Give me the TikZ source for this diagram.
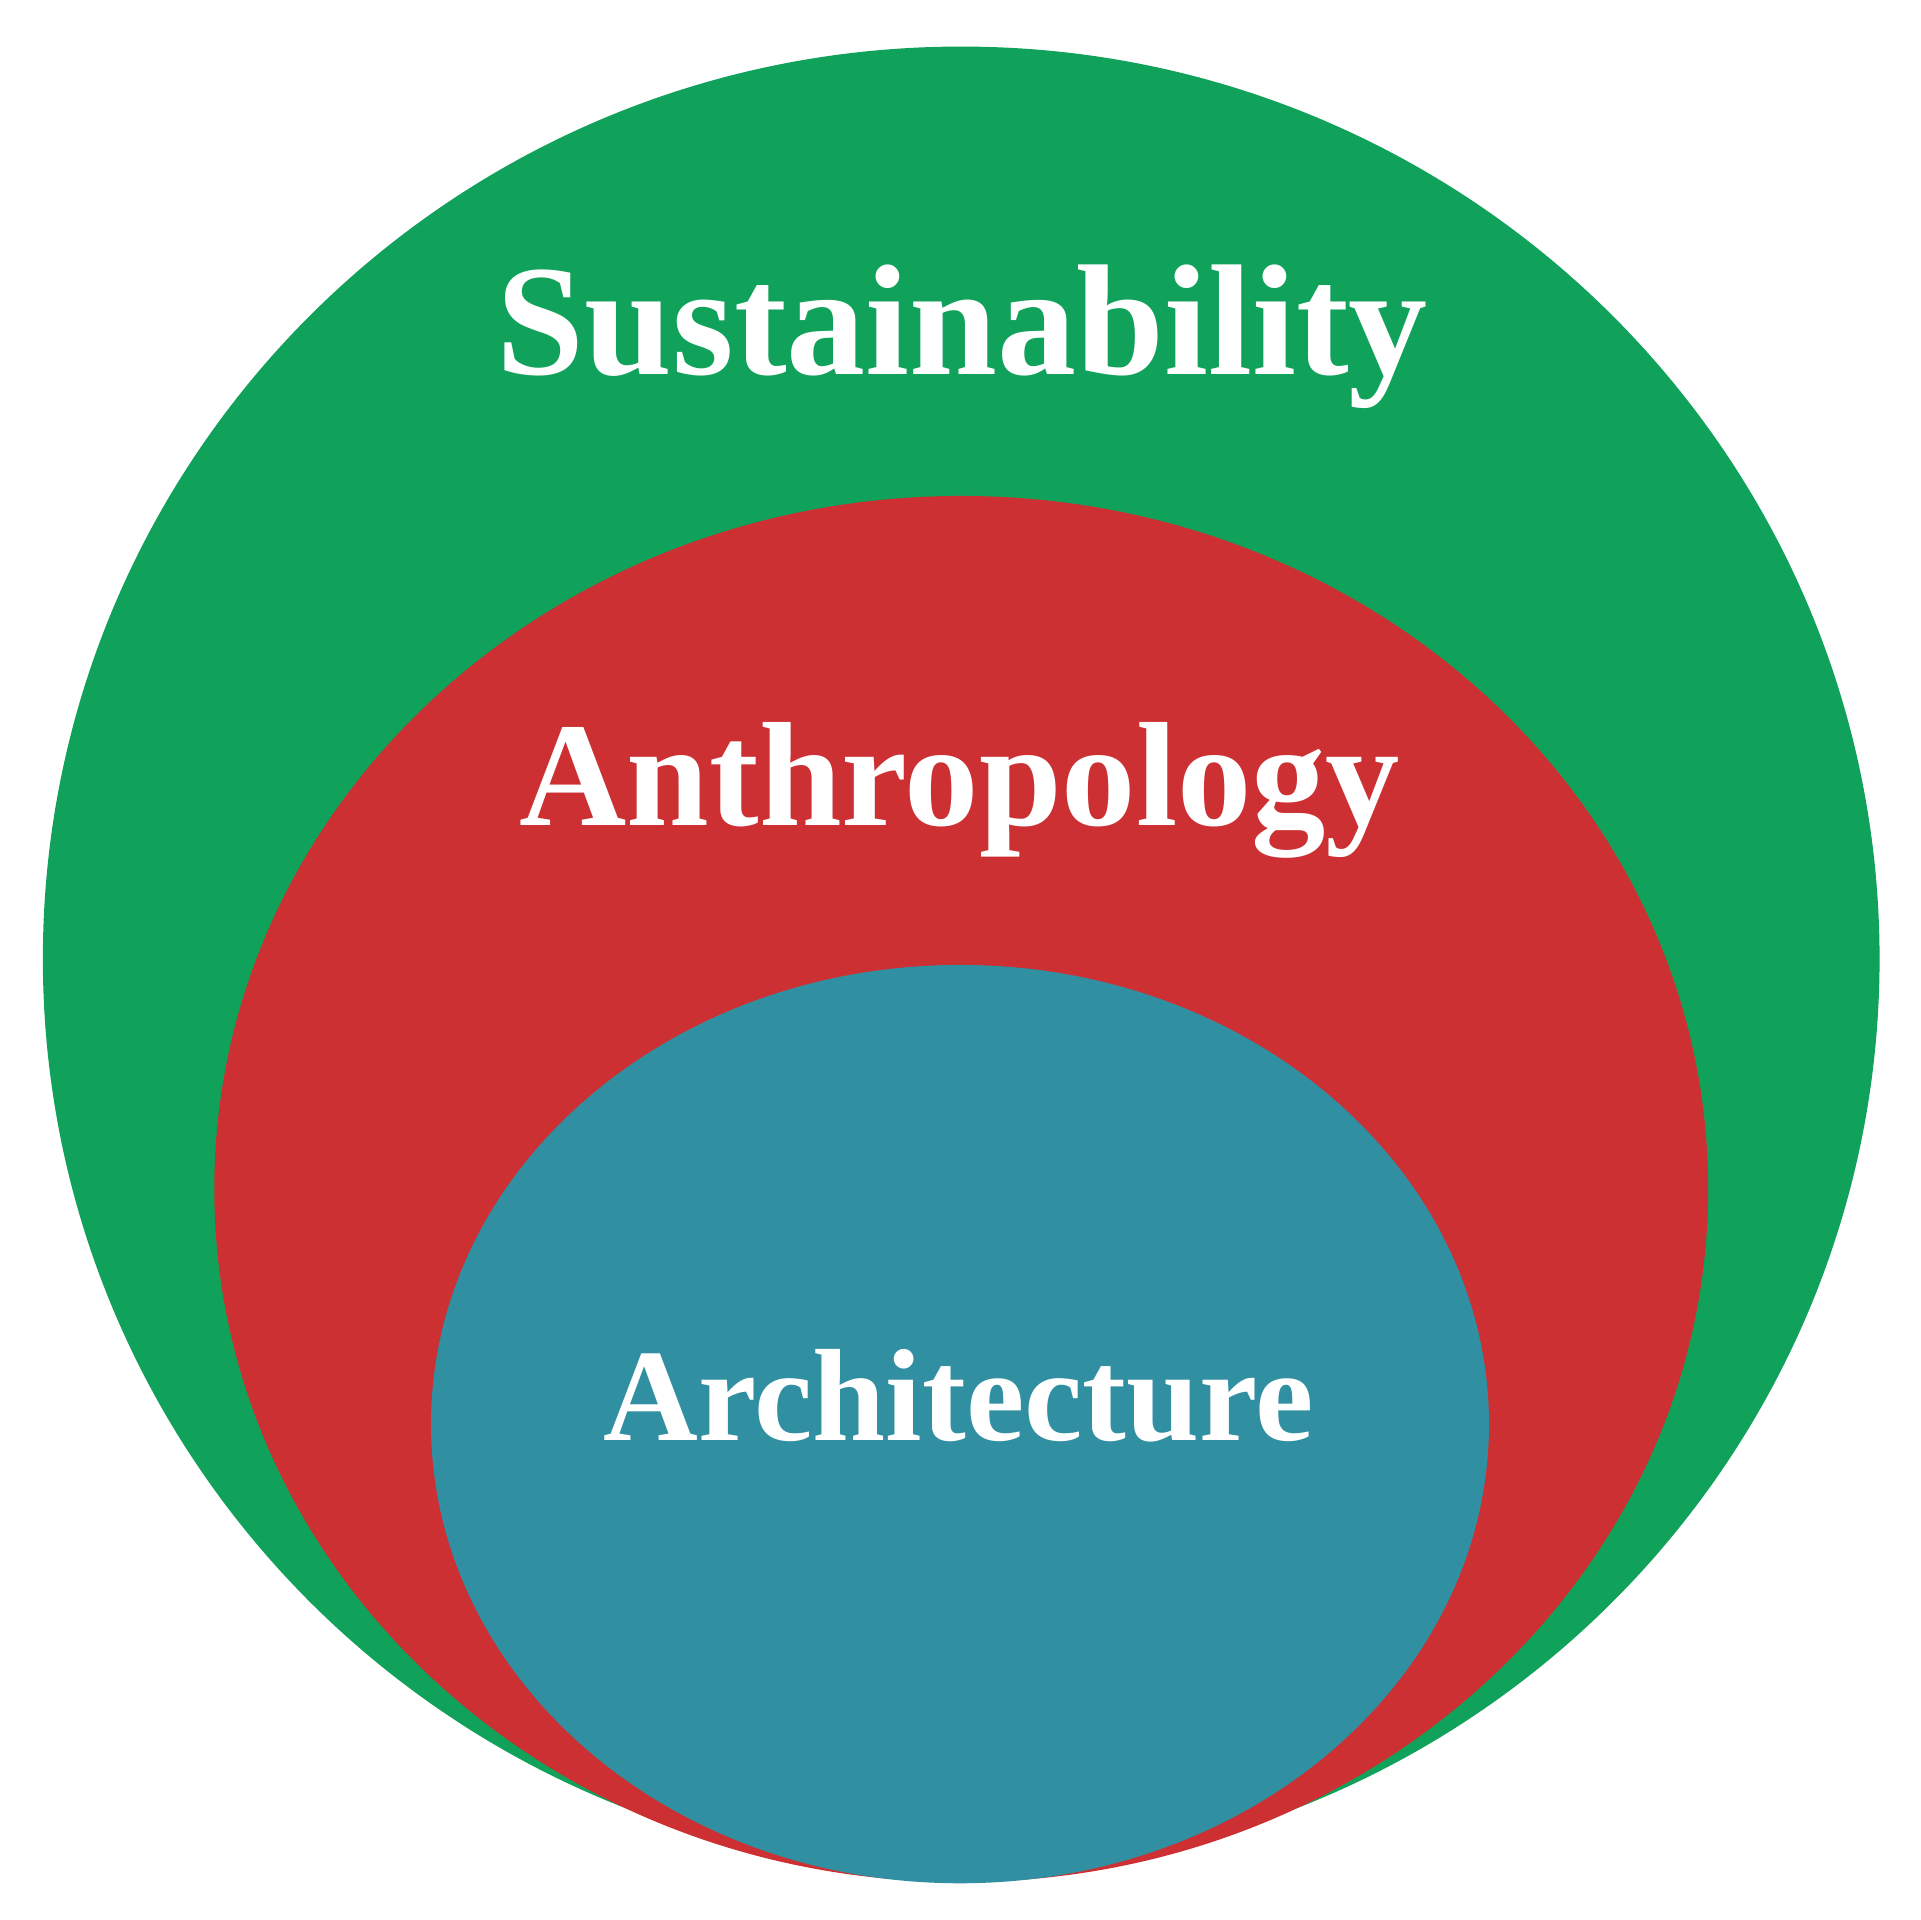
\documentclass[tikz,border=0pt]{standalone}
\usepackage{fontspec}
\setmainfont{Liberation Serif}
\usetikzlibrary{positioning}

\definecolor{sustgreen}{RGB}{16,162,90}
\definecolor{anthred}{RGB}{204,48,51}
\definecolor{archteal}{RGB}{49,143,162}

\begin{document}
\begin{tikzpicture}[x=0.01cm, y=-0.01cm,
    label/.style={anchor=base, text=white, inner sep=0pt, font=\bfseries}]
            \useasboundingbox (0,0) rectangle (1568,1568);

            % Sustainability
            \fill[sustgreen] (785,783) ellipse (750 and 745);
            \node[label, font=\fontsize{36.7}{40}\selectfont\bfseries] (sust) at (786,306) {Sustainability};

            % Anthropology
            \fill[anthred] (785,971) ellipse (610 and 566);
            \node[label, font=\fontsize{34.5}{38}\selectfont\bfseries] (anth) at (784,674) {Anthropology};

            % Architecture
            \fill[archteal] (784,1163) ellipse (432 and 375);
            \node[label, font=\fontsize{30.5}{34}\selectfont\bfseries] (arch) at (783,1176) {Architecture};
        \end{tikzpicture}
\end{document}
